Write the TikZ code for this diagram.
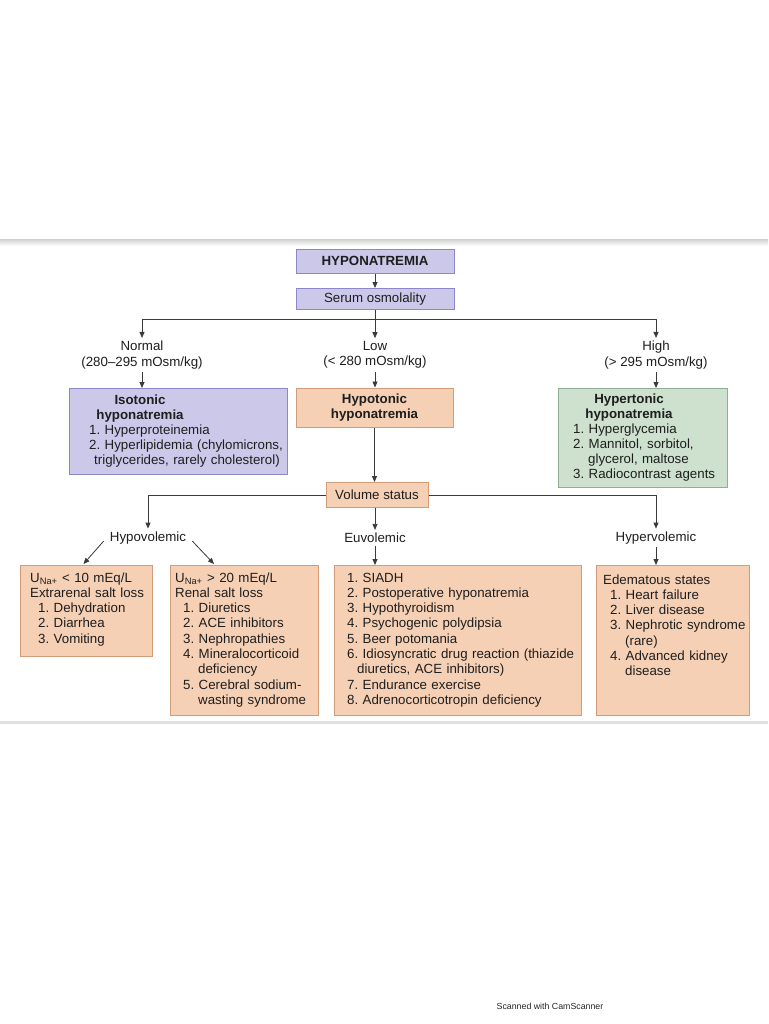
\documentclass[tikz,border=0pt]{standalone}
\usepackage{fontspec}
\setmainfont{Liberation Sans}
\usetikzlibrary{arrows.meta,calc}
\frenchspacing
\definecolor{lavfill}{HTML}{CBC8EA}
\definecolor{lavdraw}{HTML}{8C88C6}
\definecolor{pchfill}{HTML}{F6D0B5}
\definecolor{pchdraw}{HTML}{D39C78}
\definecolor{grnfill}{HTML}{CDE1CE}
\definecolor{grndraw}{HTML}{8FAE96}
\definecolor{ink}{HTML}{1E1E1E}
\definecolor{wire}{HTML}{3A3A3A}
\newcommand\bodyfont{\fontsize{13.3}{15.3}\selectfont}
\tikzset{
  lav/.style={fill=lavfill, draw=lavdraw},
  pch/.style={fill=pchfill, draw=pchdraw},
  grn/.style={fill=grnfill, draw=grndraw},
  plainbox/.style={rectangle, line width=1pt, inner sep=0pt, align=center, text=ink},
  frame/.style={rectangle, line width=1pt, inner sep=0pt, anchor=north west},
  txt/.style={font=\bodyfont, text=ink, inner sep=0pt, align=left, anchor=base west},
  titletxt/.style={font=\bodyfont\bfseries, text=ink, inner sep=0pt, align=center, anchor=base, text width=120pt},
  lbl/.style={font=\bodyfont, text=ink, align=center, inner sep=3pt},
  arr/.style={draw=wire, line width=0.8pt, -{Triangle[length=6pt,width=5pt]}},
  wireline/.style={draw=wire, line width=0.8pt}
}
\begin{document}
\begin{tikzpicture}[x=1pt,y=-1pt]
\useasboundingbox[fill=white] (0,0) rectangle (768,1024);
% scan edges
\shade[top color=black!18, bottom color=white] (0,239) rectangle (768,246);
\fill[black!12] (0,721) rectangle (768,724);

% top
\node[lav, plainbox, minimum width=158pt, minimum height=24pt, font=\bodyfont\bfseries] (hypo) at (375,261) {HYPONATREMIA};
\node[lav, plainbox, minimum width=158pt, minimum height=21pt, font=\bodyfont] (serum) at (375,299) {Serum osmolality};
\coordinate (j1) at (375,319);

\node[lbl] (normal) at (142,355) {Normal\\(280--295 mOsm/kg)};
\node[lbl] (low) at (375,355) {Low\\(< 280 mOsm/kg)};
\node[lbl] (high) at (656,355) {High\\(> 295 mOsm/kg)};

% second row
\node[lav, frame, minimum width=218pt, minimum height=86pt] (iso) at (69,388) {};
\node[titletxt] (isotitle) at (140,404) {Isotonic\\hyponatremia};
\node[txt, text width=200pt] (isolist) at (89,434) {1. Hyperproteinemia\\2. Hyperlipidemia (chylomicrons,\\\hspace*{5pt}triglycerides, rarely cholesterol)};

\node[pch, plainbox, minimum width=157pt, minimum height=39pt, font=\bodyfont\bfseries] (hypot) at (374.5,407.5) {Hypotonic\\hyponatremia};

\node[grn, frame, minimum width=169pt, minimum height=99pt] (hyper) at (558,388) {};
\node[titletxt] (hypertitle) at (629,403) {Hypertonic\\hyponatremia};
\node[txt, text width=150pt] (hyperlist) at (573,433) {1. Hyperglycemia\\2. Mannitol, sorbitol,\\\hspace*{15pt}glycerol, maltose\\3. Radiocontrast agents};

% volume
\node[pch, plainbox, minimum width=102pt, minimum height=25pt, font=\bodyfont] (vol) at (377,495) {Volume status};
\node[lbl] (hypov) at (148,538) {Hypovolemic};
\node[lbl] (euv) at (375,538) {Euvolemic};
\node[lbl] (hyperv) at (656,538) {Hypervolemic};

% bottom boxes
\node[pch, frame, minimum width=132pt, minimum height=91pt] (boxA) at (20,565) {};
\node[txt, text width=125pt] (textA) at (30,582) {U\textsubscript{Na+} < 10 mEq/L\\Extrarenal salt loss\\\hspace*{8pt}1. Dehydration\\\hspace*{8pt}2. Diarrhea\\\hspace*{8pt}3. Vomiting};

\node[pch, frame, minimum width=148pt, minimum height=150pt] (boxB) at (170,565) {};
\node[txt, text width=140pt] (textB) at (175,582) {U\textsubscript{Na+} > 20 mEq/L\\Renal salt loss\\\hspace*{8pt}1. Diuretics\\\hspace*{8pt}2. ACE inhibitors\\\hspace*{8pt}3. Nephropathies\\\hspace*{8pt}4. Mineralocorticoid\\\hspace*{23pt}deficiency\\\hspace*{8pt}5. Cerebral sodium-\\\hspace*{23pt}wasting syndrome};

\node[pch, frame, minimum width=247pt, minimum height=150pt] (boxC) at (334,565) {};
\node[txt, text width=235pt] (textC) at (347,582) {1. SIADH\\2. Postoperative hyponatremia\\3. Hypothyroidism\\4. Psychogenic polydipsia\\5. Beer potomania\\6. Idiosyncratic drug reaction (thiazide\\\hspace*{10pt}diuretics, ACE inhibitors)\\7. Endurance exercise\\8. Adrenocorticotropin deficiency};

\node[pch, frame, minimum width=153pt, minimum height=150pt] (boxD) at (596,565) {};
\node[txt, text width=148pt] (textD) at (603,584) {Edematous states\\\hspace*{7pt}1. Heart failure\\\hspace*{7pt}2. Liver disease\\\hspace*{7pt}3. Nephrotic syndrome\\\hspace*{22pt}(rare)\\\hspace*{7pt}4. Advanced kidney\\\hspace*{22pt}disease};

% connectors
\draw[arr] (hypo) -- (serum);
\draw[wireline] (serum.south) -- (j1);
\draw[arr] (j1) -| (normal.north);
\draw[arr] (j1) -- (low.north);
\draw[arr] (j1) -| (high.north);
\draw[arr] (normal.south) -- (normal.south |- iso.north);
\draw[arr] (low.south) -- (low.south |- hypot.north);
\draw[arr] (high.south) -- (high.south |- hyper.north);
\draw[arr] (hypot.south) -- (hypot.south |- vol.north);
\draw[arr] (vol.west) -| (hypov.north);
\draw[arr] (vol.east) -| (hyperv.north);
\draw[arr] (vol.south -| euv) -- (euv.north);
\draw[arr] (euv.south) -- (euv.south |- boxC.north);
\draw[arr] (hyperv.south) -- (hyperv.south |- boxD.north);
\draw[arr] ([shift={(-3,3)}]hypov.west) -- ([shift={(-3,-1)}]boxA.north);
\draw[arr] ([shift={(3,3)}]hypov.east) -- ([shift={(44,-1)}]boxB.north west);

\node[font=\fontsize{8.8}{10}\selectfont, text=black!85] (cam) at (550,1006) {Scanned with CamScanner};
\end{tikzpicture}
\end{document}
